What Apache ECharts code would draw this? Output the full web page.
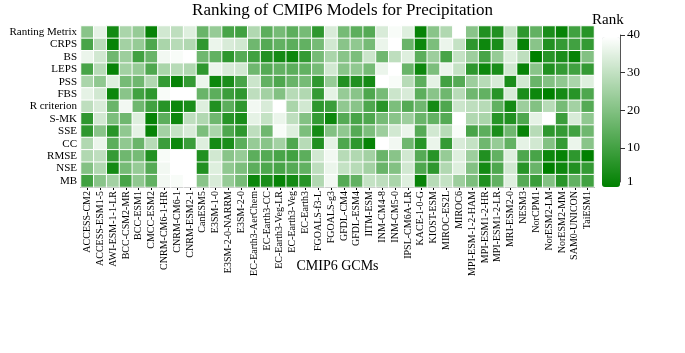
<!DOCTYPE html>
<html>
<head>
<meta charset="utf-8">
<script src="https://cdn.jsdelivr.net/npm/echarts@6/dist/echarts.min.js"></script>
<style>
  html, body { margin: 0; padding: 0; background: #fff; }
  #main { width: 685px; height: 353px; }
</style>
</head>
<body>
<div id="main"></div>
<script>
var models = ['ACCESS-CM2', 'ACCESS-ESM1-5', 'AWI-ESM-1-1-LR', 'BCC-CSM2-MR', 'BCC-ESM1', 'CMCC-ESM2',
  'CNRM-CM6-1-HR', 'CNRM-CM6-1', 'CNRM-ESM2-1', 'CanESM5', 'E3SM-1-0', 'E3SM-2-0-NARRM', 'E3SM-2-0',
  'EC-Earth3-AerChem', 'EC-Earth3-CC', 'EC-Earth3-Veg-LR', 'EC-Earth3-Veg', 'EC-Earth3', 'FGOALS-f3-L',
  'FGOALS-g3', 'GFDL-CM4', 'GFDL-ESM4', 'IITM-ESM', 'INM-CM4-8', 'INM-CM5-0', 'IPSL-CM6A-LR', 'KACE-1-0-G',
  'KIOST-ESM', 'MIROC-ES2L', 'MIROC6', 'MPI-ESM-1-2-HAM', 'MPI-ESM1-2-HR', 'MPI-ESM1-2-LR', 'MRI-ESM2-0',
  'NESM3', 'NorCPM1', 'NorESM2-LM', 'NorESM2-MM', 'SAM0-UNICON', 'TaiESM1'];

var metrics = ['Ranting Metrix', 'CRPS', 'BS', 'LEPS', 'PSS', 'FBS', 'R criterion', 'S-MK', 'SSE', 'CC', 'RMSE', 'NSE', 'MB'];

// rank of each model, one array per metric (1 = best)
var rankMetrix = [22, 36, 4, 27, 24, 2, 33, 30, 35, 17, 24, 12, 11, 28, 15, 19, 15, 19, 8, 34, 19, 15, 14, 34, 39, 35, 2, 22, 28, 40, 22, 6, 6, 31, 8, 16, 5, 2, 11, 7];
var crps = [12, 29, 2, 26, 24, 13, 27, 29, 28, 8, 37, 34, 33, 18, 14, 16, 15, 16, 19, 33, 22, 23, 19, 37, 40, 17, 3, 20, 37, 31, 8, 3, 5, 33, 2, 22, 6, 9, 11, 9];
var bs = [37, 33, 18, 25, 11, 17, 38, 39, 40, 18, 16, 8, 14, 11, 6, 4, 3, 9, 19, 27, 22, 20, 32, 18, 30, 35, 15, 25, 12, 31, 25, 12, 24, 35, 30, 1, 7, 5, 2, 21];
var leps = [12, 29, 2, 26, 24, 13, 27, 29, 28, 8, 37, 34, 33, 18, 14, 16, 15, 16, 19, 33, 22, 23, 19, 37, 40, 17, 3, 20, 37, 31, 8, 3, 5, 33, 2, 22, 6, 9, 11, 9];
var pss = [27, 23, 35, 19, 18, 28, 9, 2, 9, 37, 3, 5, 12, 32, 16, 13, 17, 19, 8, 24, 6, 6, 4, 40, 39, 29, 15, 36, 11, 14, 25, 29, 34, 5, 33, 17, 21, 23, 27, 35];
var fbs = [36, 33, 3, 22, 11, 8, 39, 40, 40, 17, 15, 10, 8, 30, 26, 21, 29, 28, 9, 36, 24, 22, 13, 19, 32, 34, 15, 22, 18, 29, 18, 16, 7, 34, 5, 3, 1, 4, 7, 13];
var rCriterion = [30, 34, 17, 38, 18, 11, 7, 3, 5, 35, 6, 15, 8, 38, 34, 40, 27, 33, 8, 10, 23, 22, 13, 7, 20, 14, 18, 4, 13, 32, 30, 29, 16, 4, 25, 21, 29, 19, 26, 14];
var smk = [8, 33, 20, 18, 35, 2, 15, 3, 30, 28, 18, 7, 5, 36, 31, 37, 30, 21, 9, 3, 14, 12, 13, 19, 22, 25, 17, 16, 14, 40, 28, 27, 7, 6, 13, 36, 40, 10, 34, 23];
var sse = [8, 22, 7, 23, 36, 2, 26, 31, 34, 20, 27, 13, 8, 30, 18, 39, 35, 20, 4, 21, 23, 14, 20, 25, 33, 37, 14, 33, 29, 39, 12, 15, 5, 18, 2, 29, 8, 9, 11, 18];
var cc = [28, 37, 15, 23, 17, 29, 10, 3, 10, 35, 4, 5, 15, 24, 22, 26, 13, 29, 6, 36, 13, 8, 2, 40, 38, 18, 7, 37, 9, 34, 31, 18, 24, 16, 36, 33, 21, 9, 37, 22];
var rmse = [28, 30, 9, 18, 19, 6, 39, 40, 40, 6, 33, 22, 24, 15, 14, 12, 11, 15, 33, 38, 29, 28, 26, 17, 22, 33, 14, 7, 24, 35, 25, 6, 16, 35, 13, 12, 3, 2, 8, 1];
var nse = [21, 28, 4, 19, 24, 14, 38, 40, 40, 6, 35, 23, 20, 15, 13, 12, 14, 16, 30, 37, 31, 29, 26, 17, 21, 33, 13, 8, 28, 35, 21, 4, 13, 33, 7, 17, 1, 3, 6, 9];
var mb = [11, 22, 26, 12, 23, 16, 38, 39, 40, 22, 34, 24, 19, 3, 5, 2, 4, 7, 28, 38, 14, 16, 31, 30, 27, 35, 2, 29, 31, 25, 20, 6, 16, 35, 14, 10, 21, 7, 16, 11];

var rankRows = [rankMetrix, crps, bs, leps, pss, fbs, rCriterion, smk, sse, cc, rmse, nse, mb];
var colorbarLabels = [1, 10, 20, 30, 40];
var colorbarTicks = [10, 20, 30, 40];

var serif = '"Liberation Serif", "DejaVu Serif", serif';

var cells = [];
for (var r = 0; r < rankRows.length; ++r) {
  for (var c = 0; c < models.length; ++c) {
    cells.push([c, r, rankRows[r][c]]);
  }
}

var chart = echarts.init(document.getElementById('main'), null, { renderer: 'canvas' });

var option = {
  backgroundColor: '#fff',
  animation: false,
  title: {
    text: 'Ranking of CMIP6 Models for Precipitation',
    left: 'center',
    top: 0,
    padding: [2, 5],
    textStyle: { fontFamily: serif, fontSize: 17, fontWeight: 'normal', color: '#000' }
  },
  grid: [
    { left: 81, top: 26, width: 513, height: 161 },
    // colorbar axis
    { left: 602, top: 35, width: 18, height: 147 }
  ],
  xAxis: [{
    type: 'category',
    data: models,
    gridIndex: 0,
    name: 'CMIP6 GCMs',
    nameLocation: 'middle',
    nameGap: 72,
    nameMoveOverlap: false,
    nameTextStyle: { fontFamily: serif, fontSize: 14, color: '#000' },
    axisLine: { show: true, lineStyle: { color: '#000', width: 1 } },
    axisTick: { show: true, alignWithLabel: true, length: 3, lineStyle: { color: '#000' } },
    axisLabel: { rotate: 90, interval: 0, margin: 4, fontFamily: serif, fontSize: 10, color: '#000' },
    splitArea: { show: false }
  }, {
    type: 'value',
    gridIndex: 1,
    show: false
  }],
  yAxis: [{
    type: 'category',
    data: metrics,
    gridIndex: 0,
    inverse: true,
    axisLine: { show: false },
    axisTick: { show: false },
    axisLabel: { interval: 0, margin: 4, fontFamily: serif, fontSize: 11, color: '#000' }
  }, {
    type: 'value',
    gridIndex: 1,
    position: 'right',
    z: 10,
    min: 1,
    max: 40,
    axisLine: { show: true, onZero: false, lineStyle: { color: '#555', width: 1 } },
    splitLine: { show: false },
    axisTick: { show: true, inside: false, length: 5, customValues: colorbarTicks, lineStyle: { color: '#333' } },
    axisLabel: { margin: 7, customValues: colorbarLabels, fontFamily: serif, fontSize: 13, color: '#000' }
  }],
  visualMap: {
    type: 'continuous',
    min: 1,
    max: 40,
    calculable: false,
    hoverLink: false,
    orient: 'vertical',
    left: 602,
    top: 37,
    z: 1,
    padding: 0,
    itemWidth: 18,
    itemHeight: 150,
    seriesIndex: 0,
    inRange: { color: ['#008000', '#ffffff'] }
  },
  graphic: [{
    type: 'text',
    left: 592,
    top: 13,
    style: { text: 'Rank', font: '15px ' + serif, fill: '#000' }
  }],
  series: [{
    type: 'heatmap',
    xAxisIndex: 0,
    yAxisIndex: 0,
    data: cells,
    itemStyle: { borderColor: '#fff', borderWidth: 1 }
  }]
};

chart.setOption(option);
</script>
</body>
</html>
